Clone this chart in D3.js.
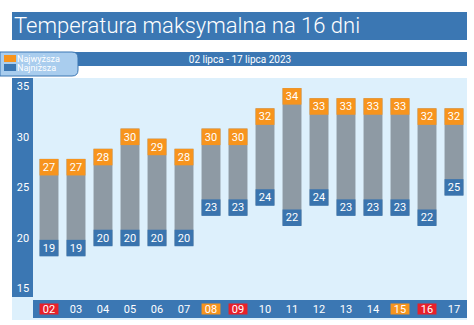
<!DOCTYPE html>
<html><head><meta charset="utf-8">
<script src="https://cdn.jsdelivr.net/npm/d3@7"></script>
<style>html,body{margin:0;padding:0;background:#fff;overflow:hidden}svg{display:block;font-family:Roboto,"Noto Sans",sans-serif}</style>
</head><body><svg id="c" width="474" height="325"></svg>
<script>
const days = ["02","03","04","05","06","07","08","09","10","11","12","13","14","15","16","17"];
const maxT = [27,27,28,30,29,28,30,30,32,34,33,33,33,33,32,32];
const minT = [19,19,20,20,20,20,23,23,24,22,24,23,23,23,22,25];
const highlightRed = ["02","09","16"];
const highlightOrange = ["08","15"];
const yTicks = [15,20,25,30,35];
const titleText = "Temperatura maksymalna na 16 dni";
const subText = "02 lipca - 17 lipca 2023";
const legendLabels = ["Najwyższa","Najniższa"];

(function(){
const C = {dark:"#3b77b3", orange:"#f7941d", gray:"#8e9aa4", bg:"#ddf0fc", red:"#e8202a", legend:"#a9cdee", minBox:"#3a74ae"};
const svg = d3.select("#c");

// title
svg.append("rect").attr("x",12).attr("y",12).attr("width",455).attr("height",28).attr("fill",C.dark);
svg.append("text").attr("x",14).attr("y",33).attr("fill","#fff").attr("font-size",22).attr("font-weight",300).text(titleText);

// subheader
svg.append("rect").attr("x",12).attr("y",52).attr("width",455).attr("height",14).attr("fill",C.dark);
svg.append("text").attr("x",240).attr("y",63).attr("text-anchor","middle").attr("fill","#fff").attr("font-size",10).text(subText);

// legend
svg.append("path").attr("d","M0,52 H72 Q78,52 78,58 V70 Q78,76 72,76 H0 Z").attr("fill",C.legend).attr("stroke",C.dark).attr("stroke-width",1);
const legColors=[C.orange,C.dark];
legendLabels.forEach((l,i)=>{
  svg.append("rect").attr("x",4).attr("y",55+i*9).attr("width",12).attr("height",7).attr("fill",legColors[i]);
  svg.append("text").attr("x",17).attr("y",62+i*9).attr("fill","#fff").attr("font-size",9).text(l);
});

// plot area
const pl=33, pr=467, pt=78, pb=297;
svg.append("rect").attr("x",12).attr("y",pt).attr("width",pr-12).attr("height",320-pt).attr("fill",C.bg);
svg.append("rect").attr("x",12).attr("y",pt).attr("width",pl-12).attr("height",pb-pt).attr("fill",C.dark);
svg.append("rect").attr("x",pl).attr("y",300).attr("width",pr-pl).attr("height",18).attr("fill",C.dark);

const y = d3.scaleLinear().domain([15,35]).range([288.3,86]);
const x = d3.scaleBand().domain(days).range([35.5,467.5]).paddingInner(0.3).paddingOuter(0.15);

const yAxis = svg.append("g").attr("transform",`translate(${pl-3},0)`).call(d3.axisLeft(y).tickValues(yTicks).tickSize(0).tickPadding(0));
yAxis.select(".domain").remove();
yAxis.selectAll("text").attr("fill","#fff").attr("font-size",11).attr("font-family","Roboto").attr("text-anchor","middle").attr("x",-7);

const bw = x.bandwidth();
const data = days.map((d,i)=>({d,max:maxT[i],min:minT[i]}));
const g = svg.append("g");
g.selectAll(".bar").data(data).join("rect").attr("x",d=>x(d.d)).attr("width",bw)
  .attr("y",d=>y(d.max)-8).attr("height",d=>y(d.min)-y(d.max)+16).attr("fill",C.gray);
g.selectAll(".mx").data(data).join("rect").attr("x",d=>x(d.d)).attr("width",bw)
  .attr("y",d=>y(d.max)-8).attr("height",16.5).attr("fill",C.orange);
g.selectAll(".mn").data(data).join("rect").attr("x",d=>x(d.d)).attr("width",bw)
  .attr("y",d=>y(d.min)-8).attr("height",16.5).attr("fill",C.minBox);
g.selectAll(".mxt").data(data).join("text").attr("x",d=>x(d.d)+bw/2).attr("y",d=>y(d.max)+4)
  .attr("text-anchor","middle").attr("fill","#fff").attr("font-size",11).text(d=>d.max);
g.selectAll(".mnt").data(data).join("text").attr("x",d=>x(d.d)+bw/2).attr("y",d=>y(d.min)+4)
  .attr("text-anchor","middle").attr("fill","#fff").attr("font-size",11).text(d=>d.min);

// x axis labels
const xg = svg.append("g");
xg.selectAll("rect").data(days.filter(d=>highlightRed.includes(d)||highlightOrange.includes(d))).join("rect")
  .attr("x",d=>x(d)).attr("width",bw).attr("y",303.5).attr("height",11)
  .attr("fill",d=>highlightRed.includes(d)?C.red:C.orange);
const xAxis = svg.append("g").attr("transform","translate(0,309)").call(d3.axisBottom(x).tickSize(0).tickPadding(0));
xAxis.select(".domain").remove();
xAxis.selectAll("text").attr("fill","#fff").attr("font-size",11).attr("font-family","Roboto").attr("dy","0.35em").attr("y",0);
})();
</script></body></html>
